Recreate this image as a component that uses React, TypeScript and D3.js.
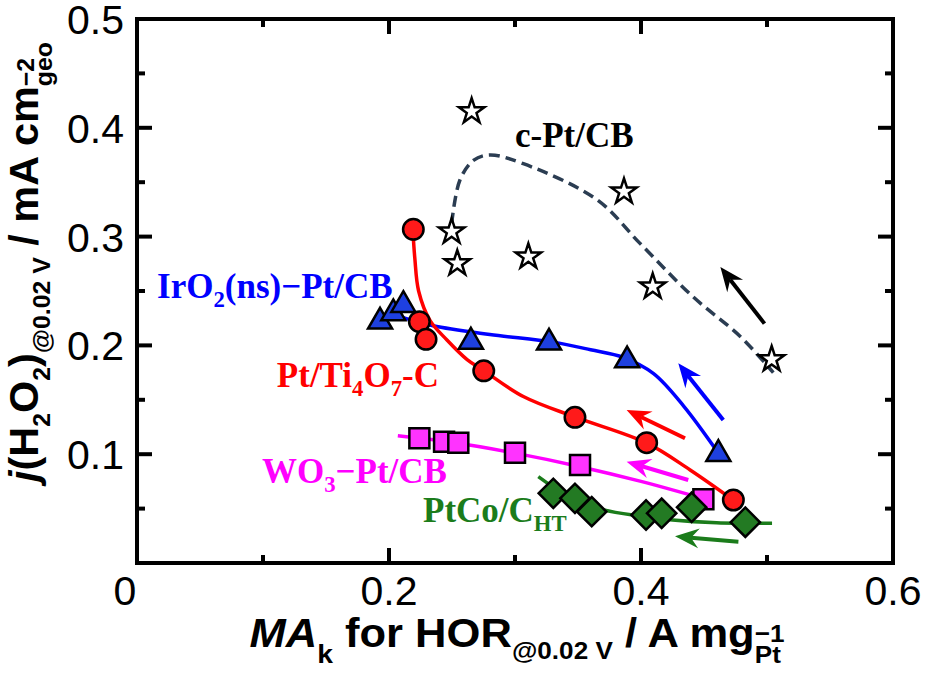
import React, { useEffect, useRef } from 'react';
import * as d3 from 'd3';

type Pt = [number, number];

// marker data (x: MA_k / A mg-1, y: j(H2O2) / mA cm-2)
const cPtStars: Pt[] = [
  [0.2656, 0.415], [0.2497, 0.3045], [0.2542, 0.2754], [0.3106, 0.2815],
  [0.3865, 0.3413], [0.4093, 0.254], [0.5037, 0.1872],
];
const irO2Points: Pt[] = [
  [0.1929, 0.2218], [0.2034, 0.2295], [0.2114, 0.2371], [0.265, 0.2034],
  [0.327, 0.2025], [0.389, 0.1862], [0.4614, 0.1002],
];
const ptTiPoints: Pt[] = [
  [0.2193, 0.3067], [0.2241, 0.2218], [0.2294, 0.2056], [0.2752, 0.1766],
  [0.3476, 0.1339], [0.4045, 0.1106], [0.4733, 0.0579],
];
const wo3Points: Pt[] = [
  [0.2241, 0.1146], [0.2437, 0.1115], [0.255, 0.1106], [0.3, 0.1014],
  [0.3516, 0.0901], [0.4495, 0.0585],
];
const ptCoPoints: Pt[] = [
  [0.3304, 0.064], [0.3476, 0.0594], [0.3609, 0.0472], [0.404, 0.0441],
  [0.4164, 0.0457], [0.4402, 0.0512], [0.4828, 0.0375],
];

// hand-drawn guide curves
const cPtTrend: Pt[] = [
  [0.2497, 0.312], [0.2563, 0.352], [0.267, 0.37], [0.28, 0.375], [0.3066, 0.367],
  [0.365, 0.334], [0.399, 0.294], [0.441, 0.245], [0.479, 0.208], [0.505, 0.175],
];
const irO2Trend: Pt[] = [
  [0.21, 0.226], [0.235, 0.218], [0.28, 0.21], [0.33, 0.203], [0.36, 0.196],
  [0.386, 0.189], [0.41, 0.174], [0.434, 0.144], [0.462, 0.1],
];
const ptTiTrend: Pt[] = [
  [0.219, 0.305], [0.2205, 0.28], [0.2235, 0.25], [0.2325, 0.223], [0.246, 0.205], [0.262, 0.187],
  [0.275, 0.177], [0.3066, 0.153], [0.348, 0.134], [0.405, 0.11], [0.439, 0.0855], [0.473, 0.058],
];
const wo3Trend: Pt[] = [
  [0.207, 0.117], [0.25, 0.111], [0.3, 0.101], [0.35, 0.089], [0.4, 0.075], [0.453, 0.058],
];
const ptCoTrend: Pt[] = [
  [0.3185, 0.0794], [0.34, 0.063], [0.37, 0.049], [0.4, 0.043], [0.425, 0.0395],
  [0.46, 0.037], [0.504, 0.0365],
];

const arrows: { from: Pt; to: Pt; color: string }[] = [
  { from: [0.498, 0.22], to: [0.463, 0.272], color: '#000' },
  { from: [0.4653, 0.1314], to: [0.4296, 0.1835], color: '#0000ff' },
  { from: [0.4349, 0.1146], to: [0.3886, 0.1406], color: '#ff0000' },
  { from: [0.4375, 0.0763], to: [0.3886, 0.0931], color: '#ff00ff' },
  { from: [0.4773, 0.0196], to: [0.427, 0.0245], color: '#1b7c1b' },
];

const xMajor = [0, 0.2, 0.4, 0.6];
const xMinor = [0.1, 0.3, 0.5];
const yMajor = [0.1, 0.2, 0.3, 0.4, 0.5];
const yMinor = [0.05, 0.15, 0.25, 0.35, 0.45];

interface Part { t: string; s?: number; dy?: number; it?: boolean; hold?: boolean }

const annotations: { parts: Part[]; at: Pt; color: string }[] = [
  { parts: [{ t: 'c-Pt/CB' }], at: [0.3, 0.3826], color: '#000' },
  { parts: [{ t: 'IrO' }, { t: '2', s: 0.65, dy: 0.26 }, { t: '(ns)−Pt/CB' }], at: [0.0159, 0.2436], color: '#0000ff' },
  { parts: [{ t: 'Pt/Ti' }, { t: '4', s: 0.65, dy: 0.26 }, { t: 'O' }, { t: '7', s: 0.65, dy: 0.26 }, { t: '-C' }], at: [0.111, 0.1618], color: '#ff0000' },
  { parts: [{ t: 'WO' }, { t: '3', s: 0.65, dy: 0.26 }, { t: '−Pt/CB' }], at: [0.0992, 0.0735], color: '#ff00ff' },
  { parts: [{ t: 'PtCo/C' }, { t: 'HT', s: 0.65, dy: 0.26 }], at: [0.227, 0.0377], color: '#1b7c1b' },
];

const xTitle: Part[] = [
  { t: 'MA', it: true }, { t: 'k', s: 0.65, dy: 0.38 }, { t: ' for HOR' },
  { t: '@0.02 V', s: 0.6, dy: 0.3 }, { t: ' / A mg' },
  { t: '−1', s: 0.6, dy: -0.12, hold: true }, { t: 'Pt', s: 0.6, dy: 0.4 },
];
const yTitle: Part[] = [
  { t: 'j', it: true }, { t: '(H' }, { t: '2', s: 0.6, dy: 0.3 }, { t: 'O' },
  { t: '2', s: 0.6, dy: 0.3 }, { t: ')' }, { t: '@0.02 V', s: 0.6, dy: 0.3 },
  { t: ' / mA cm' }, { t: '−2', s: 0.6, dy: -0.1, hold: true }, { t: 'geo', s: 0.6, dy: 0.34 },
];

const SANS = '"Liberation Sans", Arial, Helvetica, sans-serif';
const SERIF = '"Liberation Serif", "Times New Roman", serif';

function drawRich(
  g: d3.Selection<SVGGElement, unknown, null, undefined>,
  x: number, y: number, parts: Part[], size: number,
  o: { anchor: 'start' | 'middle'; family: string; fill: string; rotate?: number; width?: number }
) {
  const grp = g.append('g').attr('transform', `translate(${x},${y})` + (o.rotate ? ` rotate(${o.rotate})` : ''));
  const inner = grp.append('g');
  let cx = 0;
  let held = 0;
  let holding = false;
  parts.forEach(p => {
    const t = inner.append('text')
      .attr('x', cx)
      .attr('y', (p.dy ?? 0) * size)
      .attr('font-size', size * (p.s ?? 1))
      .attr('font-family', o.family)
      .attr('font-weight', 'bold')
      .attr('font-style', p.it ? 'italic' : 'normal')
      .attr('fill', o.fill)
      .style('white-space', 'pre')
      .text(p.t);
    const w = (t.node() as SVGTextElement).getComputedTextLength();
    if (p.hold) { held = w; holding = true; }
    else { cx += holding ? Math.max(w, held) : w; holding = false; held = 0; }
  });
  const k = o.width ? o.width / cx : 1;
  const shift = o.anchor === 'middle' ? -cx / 2 : 0;
  inner.attr('transform', `scale(${k},1) translate(${shift},0)`);
}

const App: React.FC = () => {
  const ref = useRef<SVGSVGElement | null>(null);

  useEffect(() => {
    if (!ref.current) return;
    const svg = d3.select(ref.current);
    svg.selectAll('*').remove();

    const left = 137, right = 893, top = 19, bottom = 563;
    const x = d3.scaleLinear().domain([0, 0.6]).range([left, right]);
    const y = d3.scaleLinear().domain([0, 0.5]).range([bottom, top]);

    const root = svg.append('g');

    const line = d3.line<Pt>().x(d => x(d[0])).y(d => y(d[1])).curve(d3.curveCatmullRom.alpha(0.5));

    // guide curves
    root.append('path').attr('d', line(cPtTrend)).attr('fill', 'none')
      .attr('stroke', '#2b3d52').attr('stroke-width', 3.5).attr('stroke-dasharray', '11,6');
    const trends: [Pt[], string][] = [
      [irO2Trend, '#0000ff'], [ptTiTrend, '#ff0000'], [wo3Trend, '#ff00ff'], [ptCoTrend, '#1b7c1b'],
    ];
    trends.forEach(([d, c]) => {
      root.append('path').attr('d', line(d)).attr('fill', 'none')
        .attr('stroke', c).attr('stroke-width', 3.5);
    });

    // arrows
    arrows.forEach(a => {
      const x0 = x(a.from[0]), y0 = y(a.from[1]);
      const x1 = x(a.to[0]), y1 = y(a.to[1]);
      const ang = Math.atan2(y1 - y0, x1 - x0);
      const len = 24, hw = 10, notch = 16;
      const ux = Math.cos(ang), uy = Math.sin(ang);
      root.append('line')
        .attr('x1', x0).attr('y1', y0)
        .attr('x2', x1 - ux * notch).attr('y2', y1 - uy * notch)
        .attr('stroke', a.color).attr('stroke-width', 4);
      const bx = x1 - ux * len, by = y1 - uy * len;
      const pts: Pt[] = [
        [x1, y1],
        [bx - uy * hw, by + ux * hw],
        [x1 - ux * notch, y1 - uy * notch],
        [bx + uy * hw, by - ux * hw],
      ];
      root.append('path').attr('d', 'M' + pts.map(p => p.join(',')).join('L') + 'Z').attr('fill', a.color);
    });

    // markers
    const mark = (data: Pt[], type: d3.SymbolType, size: number, fill: string, rot = 0) => {
      root.append('g').selectAll('path').data(data).enter().append('path')
        .attr('d', d3.symbol(type, size)())
        .attr('transform', d => `translate(${x(d[0])},${y(d[1])}) rotate(${rot})`)
        .attr('fill', fill).attr('stroke', '#000').attr('stroke-width', 2.5)
        .attr('stroke-linejoin', 'miter');
    };
    mark(cPtStars, d3.symbolStar, 200, '#fff');
    mark(irO2Points, d3.symbolTriangle, 250, '#1e40e0');
    mark(wo3Points, d3.symbolSquare, 400, '#ff33ff');
    mark(ptTiPoints, d3.symbolCircle, 330, '#ff1a1a');
    mark(ptCoPoints, d3.symbolSquare, 430, '#237a23', 45);

    // frame and ticks
    root.append('rect').attr('x', left).attr('y', top).attr('width', right - left).attr('height', bottom - top)
      .attr('fill', 'none').attr('stroke', '#000').attr('stroke-width', 4);
    const tick = (x1: number, y1: number, x2: number, y2: number) =>
      root.append('line').attr('x1', x1).attr('y1', y1).attr('x2', x2).attr('y2', y2)
        .attr('stroke', '#000').attr('stroke-width', 4);
    xMajor.forEach(v => { tick(x(v), bottom, x(v), bottom - 15); tick(x(v), top, x(v), top + 15); });
    xMinor.forEach(v => { tick(x(v), bottom, x(v), bottom - 8); tick(x(v), top, x(v), top + 8); });
    yMajor.forEach(v => { tick(left, y(v), left + 15, y(v)); tick(right, y(v), right - 15, y(v)); });
    yMinor.forEach(v => { tick(left, y(v), left + 8, y(v)); tick(right, y(v), right - 8, y(v)); });

    const fmt = (v: number) => (v === 0 ? '0' : v.toFixed(1));
    root.append('g').selectAll('text').data(xMajor).enter().append('text')
      .attr('x', d => x(d) - (d === 0 ? 12 : 0)).attr('y', 605).attr('text-anchor', 'middle')
      .attr('font-family', SANS).attr('font-size', 41).text(fmt);
    root.append('g').selectAll('text').data(yMajor).enter().append('text')
      .attr('x', 124).attr('y', d => y(d) + 15).attr('text-anchor', 'end')
      .attr('font-family', SANS).attr('font-size', 41).text(fmt);

    // axis titles
    drawRich(root, 517, 647, xTitle, 41, { anchor: 'middle', family: SANS, fill: '#000', width: 535 });
    drawRich(root, 38, 262, yTitle, 40, { anchor: 'middle', family: SANS, fill: '#000', rotate: -90, width: 440 });

    // series labels
    annotations.forEach(a => {
      drawRich(root, x(a.at[0]), y(a.at[1]), a.parts, 35, { anchor: 'start', family: SERIF, fill: a.color });
    });
  }, []);

  return (
    <svg
      ref={ref}
      width={926}
      height={673}
      style={{ position: 'absolute', left: 0, top: 0, background: '#fff' }}
    />
  );
};

export default App;
